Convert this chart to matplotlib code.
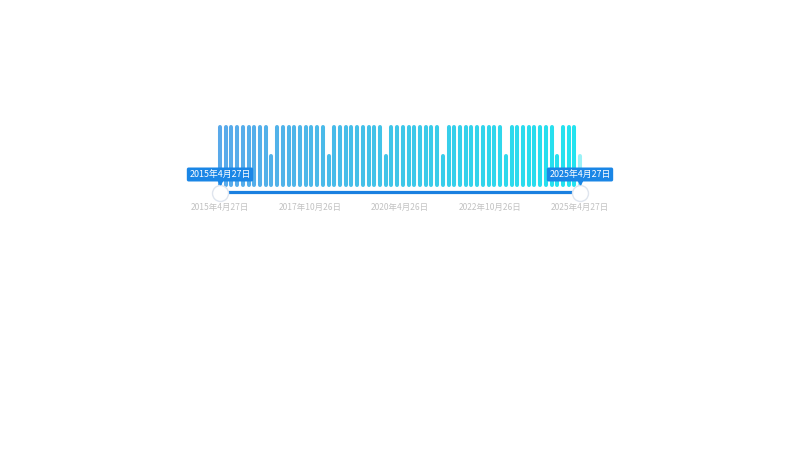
import numpy as np
import pandas as pd
import matplotlib
matplotlib.use('Agg')
import matplotlib.pyplot as plt
import matplotlib.dates as mdates
from matplotlib.colors import LinearSegmentedColormap

plt.rcParams['font.family'] = ['Noto Sans CJK SC', 'DejaVu Sans']

# data: one bar every ~58 days between the two slider ends
dates = pd.date_range('2015-04-27', periods=64, freq='58D')
values = [10, 10, 10, 10, 10, 10, 10, 10, 10, 5,
          10, 10, 10, 10, 10, 10, 10, 10, 10, 5,
          10, 10, 10, 10, 10, 10, 10, 10, 10, 5,
          10, 10, 10, 10, 10, 10, 10, 10, 10, 5,
          10, 10, 10, 10, 10, 10, 10, 10, 10, 10, 5,
          10, 10, 10, 10, 10, 10, 10, 10, 5,
          10, 10, 10, 5]
start = pd.Timestamp('2015-04-27')
end = pd.Timestamp('2025-04-27')
tick_dates = ['2015-04-27', '2017-10-26', '2020-04-26', '2022-10-26', '2025-04-27']
tick_labels = ['2015年4月27日', '2017年10月26日', '2020年4月26日', '2022年10月26日', '2025年4月27日']

W, H = 800, 450
fig = plt.figure(figsize=(W / 100, H / 100), dpi=100)
fig.patch.set_facecolor('white')

x0, x1 = 220 / W, 580 / W
# bar axes
ax = fig.add_axes([x0, (H - 185.0) / H, x1 - x0, 58.0 / H])
ax.set_xlim(start, end)
ax.set_ylim(0, 10)
ax.axis('off')
ax.patch.set_alpha(0)

cmap = LinearSegmentedColormap.from_list('bars', ['#59a9ea', '#3fc6e8', '#22e4ef'])
cols = [cmap(i / (len(values) - 1)) for i in range(len(values))]
# last bar sits half under the handle, so it looks faded
alphas = [1.0] * (len(values) - 1) + [0.45]
cols = [(c[0], c[1], c[2], a) for c, a in zip(cols, alphas)]
ax.vlines(dates, 0, values, colors=cols, linewidth=2.9, capstyle='round', clip_on=False)

# slider axes
sl = fig.add_axes([x0, (H - 215) / H, x1 - x0, 50 / H])
sl.set_xlim(start, end)
sl.set_ylim(0, 1)
sl.axis('off')
sl.patch.set_alpha(0)

sl.plot([start, end], [0.455, 0.455], color='#1a80e0', linewidth=2.3,
        solid_capstyle='butt', zorder=2, clip_on=False)
sl.plot([start, end], [0.44, 0.44], 'o', markersize=11.5, markerfacecolor='white',
        markeredgecolor='#dfe5ee', markeredgewidth=1.0, zorder=3, clip_on=False)

for d, lab in zip(tick_dates, tick_labels):
    sl.text(pd.Timestamp(d), 0.16, lab, ha='center', va='center',
            fontsize=6.1, color='#c2c2c2', zorder=4, clip_on=False)

for d, lab in [(start, '2015年4月27日'), (end, '2025年4月27日')]:
    sl.plot([d], [0.66], 'v', markersize=3.5, color='#1a86e6', zorder=5, clip_on=False)
    sl.text(d, 0.81, lab, ha='center', va='center', fontsize=6.4, color='white',
            zorder=6, clip_on=False,
            bbox=dict(boxstyle='round,pad=0.28,rounding_size=0.2', facecolor='#1a86e6',
                      edgecolor='none'))

fig.savefig('out.png', dpi=100, facecolor='white')
